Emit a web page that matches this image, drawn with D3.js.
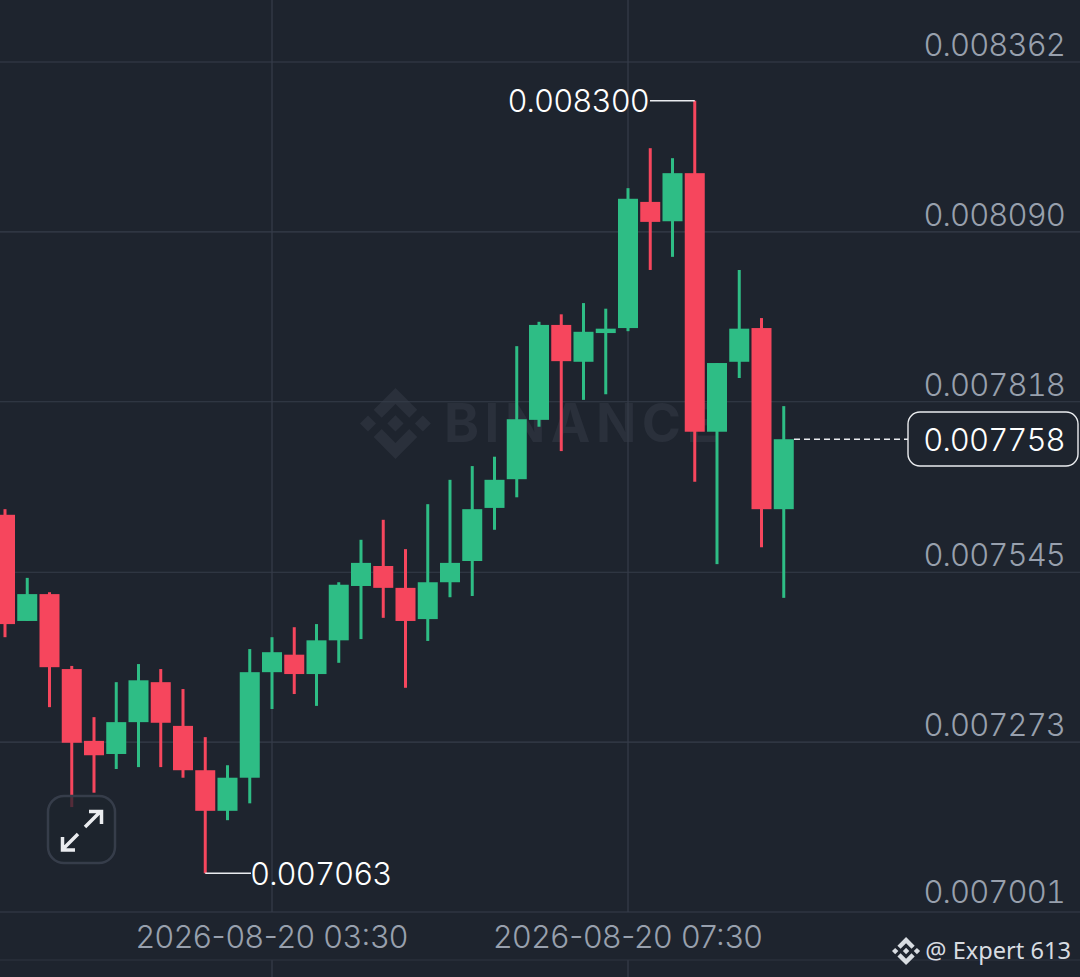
<!DOCTYPE html>
<html>
<head>
<meta charset="utf-8">
<script src="https://cdn.jsdelivr.net/npm/d3@7"></script>
<style>
html, body { margin: 0; padding: 0; background: #1e242e; }
svg { display: block; }
text { font-family: "Inter", sans-serif; font-weight: 300; }
text.price { font-variant-numeric: tabular-nums; font-feature-settings: "tnum" 1; letter-spacing: -0.9px; }
</style>
</head>
<body>
<div id="chart"></div>
<script>
var startTime = "2026-08-20 00:30";
var candleMinutes = 15;
var priceTicks = [0.008362, 0.008090, 0.007818, 0.007545, 0.007273, 0.007001];
var timeTicks = ["2026-08-20 03:30", "2026-08-20 07:30"];
var opens = [0.007637, 0.007467, 0.007510, 0.007390, 0.007275, 0.007254, 0.007305, 0.007369, 0.007299, 0.007228, 0.007163, 0.007216,
    0.007385, 0.007413, 0.007382, 0.007436, 0.007523, 0.007555, 0.007520, 0.007470, 0.007529, 0.007563, 0.007648, 0.007694,
    0.007789, 0.007941, 0.007882, 0.007928, 0.007936, 0.008138, 0.008107, 0.008184, 0.007770, 0.007882, 0.007936, 0.007646];
var closes = [0.007462, 0.007510, 0.007393, 0.007272, 0.007252, 0.007305, 0.007372, 0.007304, 0.007228, 0.007163, 0.007216, 0.007385,
    0.007417, 0.007382, 0.007436, 0.007525, 0.007560, 0.007520, 0.007467, 0.007529, 0.007560, 0.007646, 0.007693, 0.007790,
    0.007941, 0.007883, 0.007930, 0.007935, 0.008143, 0.008106, 0.008184, 0.007770, 0.007880, 0.007935, 0.007646, 0.007758];
var highs = [0.007646, 0.007536, 0.007513, 0.007395, 0.007313, 0.007369, 0.007398, 0.007390, 0.007358, 0.007281, 0.007236, 0.007422,
    0.007441, 0.007457, 0.007462, 0.007529, 0.007597, 0.007629, 0.007582, 0.007654, 0.007693, 0.007715, 0.007730, 0.007907,
    0.007946, 0.007958, 0.007976, 0.007967, 0.008160, 0.008224, 0.008208, 0.008300, 0.007880, 0.008029, 0.007952, 0.007811];
var lows = [0.007441, 0.007467, 0.007329, 0.007169, 0.007192, 0.007230, 0.007233, 0.007233, 0.007216, 0.007063, 0.007148, 0.007175,
    0.007326, 0.007350, 0.007331, 0.007400, 0.007438, 0.007472, 0.007360, 0.007435, 0.007505, 0.007507, 0.007613, 0.007665,
    0.007778, 0.007739, 0.007821, 0.007830, 0.007931, 0.008029, 0.008050, 0.007690, 0.007558, 0.007856, 0.007585, 0.007504];
var lastPrice = 0.007758;
var maxPrice = 0.008300, maxIndex = 31;
var minPrice = 0.007063, minIndex = 9;

var width = 1080, height = 977;
var bgColor = "#1e242e", upColor = "#2ebd85", downColor = "#f6465d", gridColor = "#363d4a", labelColor = "#98a0ad";
var logoPath = "M38.73 53.2l24.59-24.58 24.6 24.6 14.3-14.31L63.32 0 24.43 38.9l14.3 14.3zM0 63.31l14.3-14.31 14.31 14.31-14.31 14.3zM38.73 73.41l24.59 24.59 24.6-24.6 14.31 14.29-38.9 38.91-38.91-38.88v-.03l14.31-14.28zM98 63.31L112.3 49l14.31 14.3-14.31 14.32zM77.83 63.3L63.32 48.78 52.59 59.51l-1.24 1.23-2.54 2.54 14.51 14.5 14.51-14.47z";

var parseTime = d3.timeParse("%Y-%m-%d %H:%M");
var formatTime = d3.timeFormat("%Y-%m-%d %H:%M");
var formatPrice = d3.format(".6f");
var t0 = parseTime(startTime);
var times = opens.map(function (d, i) { return d3.timeMinute.offset(t0, i * candleMinutes); });

var x = d3.scaleTime()
    .domain([parseTime(timeTicks[0]), parseTime(timeTicks[1])])
    .range([272, 628]);
var y = d3.scaleLinear()
    .domain([priceTicks[5], priceTicks[0]])
    .range([912, 62]);

var svg = d3.select("#chart").append("svg")
    .attr("width", width)
    .attr("height", height);

// watermark
svg.append("path")
    .attr("d", logoPath)
    .attr("transform", "translate(360,388) scale(0.56)")
    .attr("fill", "#2a303b");
svg.append("text")
    .attr("x", 444).attr("y", 442)
    .attr("font-size", 53)
    .style("font-weight", 700)
    .attr("letter-spacing", 5.5)
    .attr("fill", "#2a303b")
    .text("BINANCE");

// grid
svg.append("g").selectAll("line").data(priceTicks).enter().append("line")
    .attr("x1", 0).attr("x2", width)
    .attr("y1", function (d) { return y(d); })
    .attr("y2", function (d) { return y(d); })
    .attr("stroke", gridColor).attr("stroke-width", 1.2);
svg.append("g").selectAll("line").data(timeTicks).enter().append("line")
    .attr("x1", function (d) { return x(parseTime(d)); })
    .attr("x2", function (d) { return x(parseTime(d)); })
    .attr("y1", 0).attr("y2", 912)
    .attr("stroke", gridColor).attr("stroke-width", 1.2);
svg.append("g").selectAll("line").data(timeTicks).enter().append("line")
    .attr("x1", function (d) { return x(parseTime(d)); })
    .attr("x2", function (d) { return x(parseTime(d)); })
    .attr("y1", 960).attr("y2", height)
    .attr("stroke", gridColor).attr("stroke-width", 1.2);
svg.append("line")
    .attr("x1", 0).attr("x2", width).attr("y1", 960).attr("y2", 960)
    .attr("stroke", "#2e3541").attr("stroke-width", 1.2);

// candles
var bodyW = 20;
var candles = svg.append("g").selectAll("g").data(opens).enter().append("g");
candles.append("line")
    .attr("x1", function (d, i) { return x(times[i]); })
    .attr("x2", function (d, i) { return x(times[i]); })
    .attr("y1", function (d, i) { return y(highs[i]); })
    .attr("y2", function (d, i) { return y(lows[i]); })
    .attr("stroke-width", 3)
    .attr("stroke", function (d, i) { return closes[i] >= opens[i] ? upColor : downColor; });
candles.append("rect")
    .attr("x", function (d, i) { return x(times[i]) - bodyW / 2; })
    .attr("y", function (d, i) { return y(Math.max(opens[i], closes[i])); })
    .attr("width", bodyW)
    .attr("height", function (d, i) { return Math.abs(y(opens[i]) - y(closes[i])); })
    .attr("fill", function (d, i) { return closes[i] >= opens[i] ? upColor : downColor; });

// price labels, the lowest one sits a little higher
svg.append("g").selectAll("text").data(priceTicks).enter().append("text")
    .attr("class", "price")
    .attr("x", 1065)
    .attr("y", function (d, i) { return y(d) - (i == 5 ? 9 : 6); })
    .attr("text-anchor", "end")
    .attr("font-size", 31)
    .attr("fill", labelColor)
    .text(function (d) { return formatPrice(d); });

// time labels
svg.append("g").selectAll("text").data(timeTicks).enter().append("text")
    .attr("x", function (d) { return x(parseTime(d)); })
    .attr("y", 948)
    .attr("text-anchor", "middle")
    .attr("font-size", 31)
    .attr("fill", labelColor)
    .text(function (d) { return formatTime(parseTime(d)); });

// max and min markers
var maxX = x(times[maxIndex]), minX = x(times[minIndex]);
svg.append("line")
    .attr("x1", 650).attr("x2", maxX).attr("y1", y(maxPrice)).attr("y2", y(maxPrice))
    .attr("stroke", "#eaecef").attr("stroke-width", 1.4);
svg.append("text")
    .attr("class", "price")
    .attr("x", 649).attr("y", y(maxPrice) + 11.5)
    .attr("text-anchor", "end")
    .attr("font-size", 31).attr("fill", "#ffffff")
    .text(formatPrice(maxPrice));
svg.append("line")
    .attr("x1", minX).attr("x2", 251).attr("y1", y(minPrice)).attr("y2", y(minPrice))
    .attr("stroke", "#eaecef").attr("stroke-width", 1.4);
svg.append("text")
    .attr("class", "price")
    .attr("x", 250).attr("y", y(minPrice) + 11.5)
    .attr("font-size", 31).attr("fill", "#ffffff")
    .text(formatPrice(minPrice));

// last price
svg.append("line")
    .attr("x1", 794).attr("x2", 908).attr("y1", y(lastPrice)).attr("y2", y(lastPrice))
    .attr("stroke", "#eaecef").attr("stroke-width", 1.4)
    .attr("stroke-dasharray", "6,4");
svg.append("rect")
    .attr("x", 908).attr("y", 412).attr("width", 170).attr("height", 54).attr("rx", 12)
    .attr("fill", bgColor).attr("stroke", "#eaecef").attr("stroke-width", 1.4);
svg.append("text")
    .attr("class", "price")
    .attr("x", 994).attr("y", y(lastPrice) + 11.5)
    .attr("text-anchor", "middle")
    .attr("font-size", 31).attr("fill", "#ffffff")
    .text(formatPrice(lastPrice));

// expand button
svg.append("rect")
    .attr("x", 48).attr("y", 796).attr("width", 67).attr("height", 67).attr("rx", 16)
    .attr("fill", bgColor).attr("fill-opacity", 0.75)
    .attr("stroke", "#363d4a").attr("stroke-width", 2.5);
svg.append("path")
    .attr("d", "M85,827L100,812M89,811.5H101.500V824M78,834L63,849M62.500,837V850H75")
    .attr("fill", "none").attr("stroke", "#eaecef").attr("stroke-width", 3.5);

// footer
svg.append("path")
    .attr("d", logoPath)
    .attr("transform", "translate(892,937) scale(0.222)")
    .attr("fill", "#d8dce1");
svg.append("text")
    .attr("x", 1071).attr("y", 959)
    .attr("text-anchor", "end")
    .attr("font-size", 23.6)
    .style("font-family", "'Noto Sans'")
    .style("font-weight", 400)
    .attr("fill", "#d8dce1")
    .text("@ Expert 613");
</script>
</body>
</html>
